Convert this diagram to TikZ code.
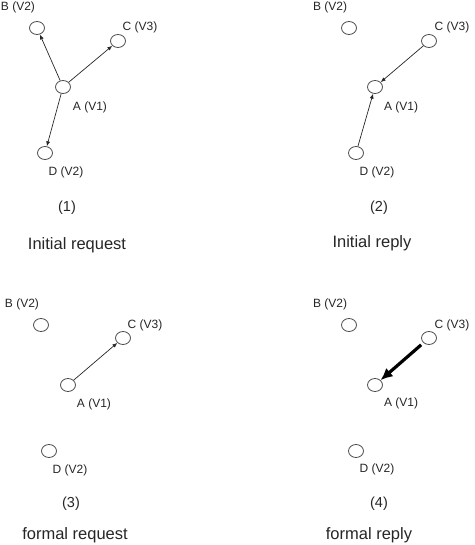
\documentclass[tikz,border=0pt]{standalone}
\usepackage{fontspec}
\setmainfont{Liberation Sans}
\usetikzlibrary{shapes.geometric,arrows.meta}
\begin{document}
\begin{tikzpicture}[x=1pt,y=-1pt,
 vtx/.style={ellipse,draw=black!70,line width=0.8pt,minimum width=15pt,minimum height=13pt,inner sep=0pt},
 lbl/.style={font=\fontsize{12}{14}\selectfont,inner sep=0pt,text=black!85},
 num/.style={font=\fontsize{14.5}{16}\selectfont,inner sep=0pt,text=black!85},
 ttl/.style={font=\fontsize{16.5}{18}\selectfont,inner sep=0pt,text=black!85},
 msg/.style={draw=black!85,line width=0.7pt,-{Latex[length=5pt,width=4pt]}},
 bigmsg/.style={draw=black,line width=3.2pt,-{Latex[length=12pt,width=11pt]},shorten <=3pt}]
\useasboundingbox (0,0) rectangle (474,545);
% Panel 1
\node[vtx] (a1) at (63,87) {};
\node[vtx] (b1) at (37,28) {};
\node[vtx] (c1) at (118,41) {};
\node[vtx] (d1) at (45,153) {};
\node[lbl] (lb1) at (18,7) {B (V2)};
\node[lbl] (lc1) at (140,27) {C (V3)};
\node[lbl] (la1) at (90,107) {A (V1)};
\node[lbl] (ld1) at (66,172) {D (V2)};
\node[num] (n1) at (67,208) {(1)};
\node[ttl] (t1) at (77,245) {Initial request};
\draw[msg] (a1) -- (b1);
\draw[msg] (a1) -- (c1);
\draw[msg] (a1) -- (d1);
% Panel 2
\node[vtx] (a2) at (375,87) {};
\node[vtx] (b2) at (349,28) {};
\node[vtx] (c2) at (429,41) {};
\node[vtx] (d2) at (356,153) {};
\node[lbl] (lb2) at (330,7) {B (V2)};
\node[lbl] (lc2) at (452,27) {C (V3)};
\node[lbl] (la2) at (401,107) {A (V1)};
\node[lbl] (ld2) at (377,172) {D (V2)};
\node[num] (n2) at (379,208) {(2)};
\node[ttl] (t2) at (372,243) {Initial reply};
\draw[msg] (c2) -- (a2);
\draw[msg] (d2) -- (a2);
% Panel 3
\node[vtx] (a3) at (68,385) {};
\node[vtx] (b3) at (41,325) {};
\node[vtx] (c3) at (123,338) {};
\node[vtx] (d3) at (49,451) {};
\node[lbl] (lb3) at (22,304) {B (V2)};
\node[lbl] (lc3) at (145,325) {C (V3)};
\node[lbl] (la3) at (94,404) {A (V1)};
\node[lbl] (ld3) at (70,470) {D (V2)};
\node[num] (n3) at (71,504) {(3)};
\node[ttl] (t3) at (75,535) {formal request};
\draw[msg] (a3) -- (c3);
% Panel 4
\node[vtx] (a4) at (375,385) {};
\node[vtx] (b4) at (349,325) {};
\node[vtx] (c4) at (429,338) {};
\node[vtx] (d4) at (356,451) {};
\node[lbl] (lb4) at (330,304) {B (V2)};
\node[lbl] (lc4) at (452,325) {C (V3)};
\node[lbl] (la4) at (401,403) {A (V1)};
\node[lbl] (ld4) at (377,469) {D (V2)};
\node[num] (n4) at (379,504) {(4)};
\node[ttl] (t4) at (369,535) {formal reply};
\draw[bigmsg] (c4) -- (a4);
\end{tikzpicture}
\end{document}
